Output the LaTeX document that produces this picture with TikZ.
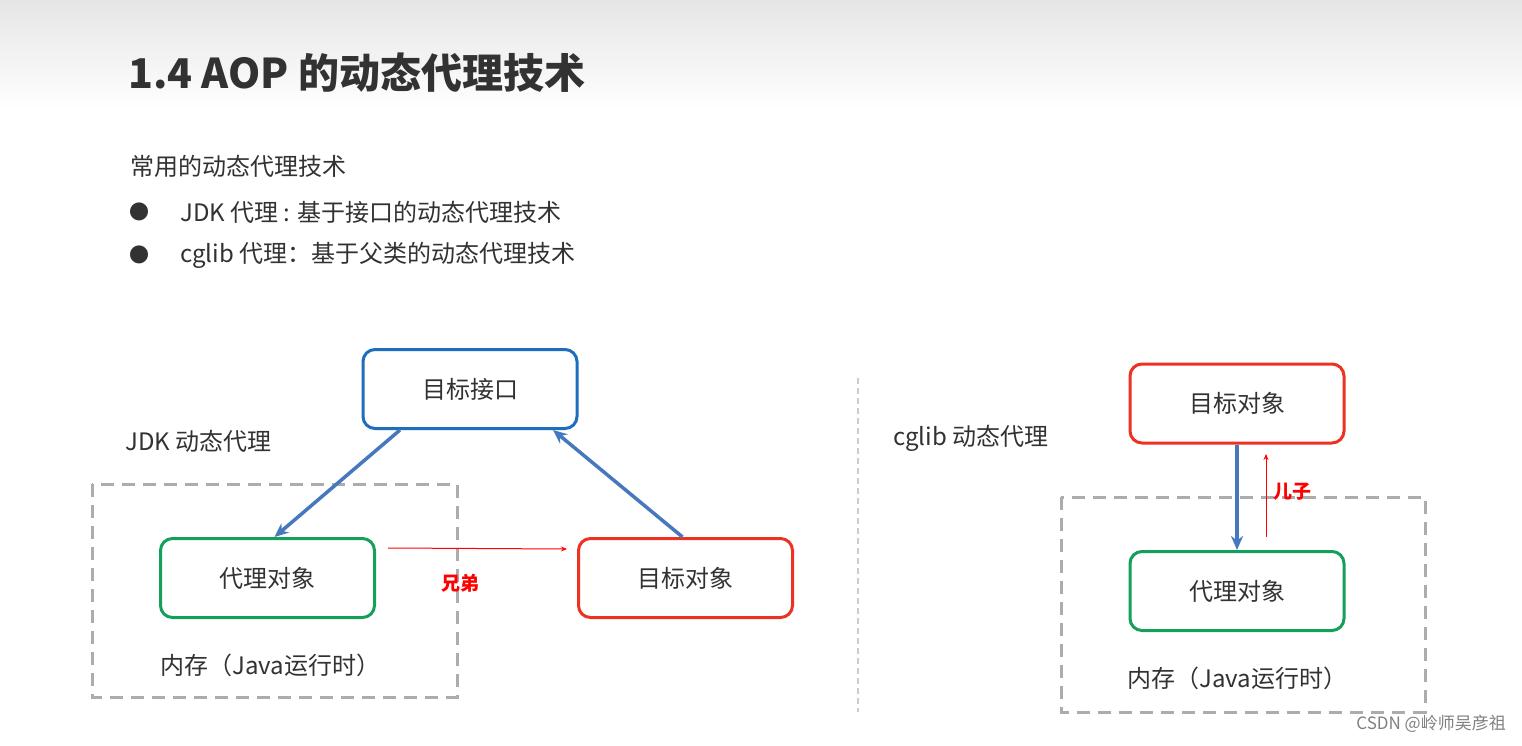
\documentclass[tikz,border=0pt]{standalone}
\usepackage{fontspec}
\setmainfont{Noto Sans CJK SC}
\usetikzlibrary{arrows.meta}
\definecolor{bblue}{RGB}{30,110,190}
\definecolor{bgreen}{RGB}{20,160,90}
\definecolor{bred}{RGB}{235,50,35}
\definecolor{agray}{RGB}{70,120,190}
\definecolor{txt}{RGB}{50,50,50}
\begin{document}
\begin{tikzpicture}[x=1pt,y=-1pt,
  box/.style={draw,line width=3pt,rounded corners=12pt,minimum width=214pt,minimum height=79pt,font=\fontsize{24}{28}\selectfont,text=txt,inner sep=0pt},
  memo/.style={draw=gray!65,line width=3pt,dash pattern=on 13pt off 8pt},
  barrow/.style={-{Stealth[length=14pt,width=12pt]},draw=agray,line width=3.5pt},
  rarrow/.style={-{Stealth[length=6pt,width=5pt]},draw=red,line width=1pt},
  lbl/.style={anchor=west,font=\fontsize{24}{28}\selectfont,text=txt,inner sep=0pt}]
\useasboundingbox (0,0) rectangle (1522,746);
\shade[top color=gray!20,bottom color=white] (0,0) rectangle (1522,110);
\fill[white] (0,110) rectangle (1522,746);
\node[anchor=west,inner sep=0pt,font=\fontsize{41}{46}\selectfont\bfseries,text=txt] (title) at (128,73) {1.4 AOP 的动态代理技术};
\node[lbl] (sub) at (130,166) {常用的动态代理技术};
\node[anchor=center,inner sep=0pt,font=\fontsize{20}{24}\selectfont,text=txt] (b1) at (139,212) {●};
\node[anchor=center,inner sep=0pt,font=\fontsize{20}{24}\selectfont,text=txt] (b2) at (139,255) {●};
\node[lbl] (l1) at (180,212) {JDK 代理 : 基于接口的动态代理技术};
\node[lbl] (l2) at (180,255) {cglib 代理：基于父类的动态代理技术};
% left
\draw[memo] (92,484) rectangle (457,697);
\node[box,draw=bblue] (iface) at (470,389) {目标接口};
\node[box,draw=bgreen] (proxyL) at (267.5,578) {代理对象};
\node[box,draw=bred] (targetL) at (685.5,578) {目标对象};
\node[lbl] (jdk) at (125,441) {JDK 动态代理};
\node[lbl] (memL) at (160,665) {内存（Java运行时）};
\draw[barrow] ([xshift=-70pt]iface.south) -- ([xshift=7pt]proxyL.north);
\draw[barrow] ([xshift=-3pt]targetL.north) -- ([xshift=83pt]iface.south);
\coordinate (ra) at (388,548);
\coordinate (rb) at (567,549);
\draw[rarrow] (ra) -- (rb);
\node[font=\fontsize{19}{22}\selectfont\bfseries,text=red] (bro) at (460,583) {兄弟};
% separator
\draw[gray!40,line width=1.2pt,dash pattern=on 6pt off 4pt] (858,378) -- (858,712);
% right
\node[lbl] (cg) at (893,438) {cglib 动态代理};
\draw[memo] (1061,497) rectangle (1425,712);
\node[box,draw=bred] (targetR) at (1237,403.5) {目标对象};
\node[box,draw=bgreen] (proxyR) at (1237,591) {代理对象};
\node[lbl] (memR) at (1127,678) {内存（Java运行时）};
\draw[barrow] (targetR.south) -- (proxyR.north);
\coordinate (sa) at (1266,537);
\coordinate (sb) at (1266,454);
\draw[rarrow] (sa) -- (sb);
\node[font=\fontsize{19}{22}\selectfont\bfseries,text=red] (son) at (1292,492) {儿子};
\node[anchor=east,inner sep=0pt,font=\fontsize{17}{20}\selectfont,text=gray] (wm) at (1506,724) {CSDN @岭师吴彦祖};
\end{tikzpicture}
\end{document}
